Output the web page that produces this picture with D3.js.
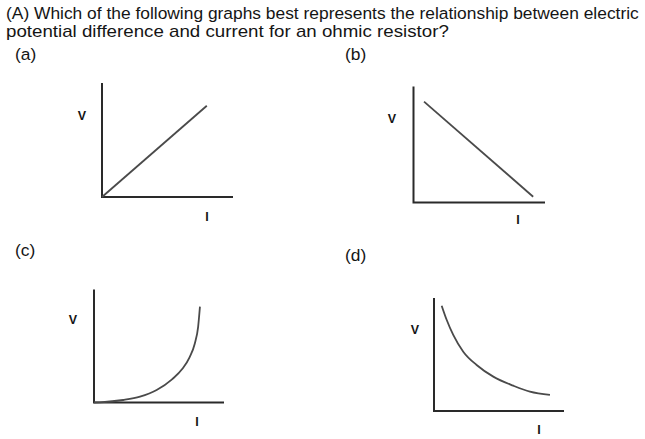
<!DOCTYPE html>
<html>
<head>
<meta charset="utf-8">
<script src="https://cdn.jsdelivr.net/npm/d3@7"></script>
<style>
  body { margin: 0; background: #fff; }
  text { font-family: "Liberation Sans", Arial, sans-serif; fill: #151515; }
</style>
</head>
<body>
<svg id="chart" width="645" height="439"></svg>
<script>
// question text
var titleLines = [
  "(A) Which of the following graphs best represents the relationship between electric",
  "potential difference and current for an ohmic resistor?"
];
var panelNames = ["(a)", "(b)", "(c)", "(d)"];
var yLabel = "V";
var xLabel = "I";

// curves, x = current, y = voltage (both 0..1 of the axis length)
var curveA = [[0, 0], [0.80, 0.80]];
var curveB = [[0.08, 0.87], [0.91, 0.05]];
var curveC = [[0, 0], [0.046, 0.002], [0.225, 0.022], [0.354, 0.051], [0.482, 0.11],
              [0.60, 0.205], [0.68, 0.298], [0.735, 0.40], [0.775, 0.52],
              [0.801, 0.67], [0.815, 0.848]];
var curveD = [[0.059, 0.932], [0.098, 0.805], [0.148, 0.673], [0.225, 0.525],
              [0.328, 0.407], [0.456, 0.304], [0.61, 0.224], [0.738, 0.171], [0.892, 0.142]];
var curves = [curveA, curveB, curveC, curveD];

// where each small graph sits on the page
var panels = [
  {ox: 102, oy: 197, xEnd: 233, top: 83, label: [15, 60], v: [82, 116], i: [207, 217], smooth: false},
  {ox: 413.5, oy: 202.5, xEnd: 545, top: 86.5, label: [345, 60], v: [392, 119], i: [518, 220], smooth: false},
  {ox: 94, oy: 402.5, xEnd: 224, top: 289.5, label: [15, 256], v: [73, 320], i: [197, 422], smooth: true},
  {ox: 434, oy: 411, xEnd: 564, top: 298, label: [345, 261], v: [415, 330], i: [539, 430], smooth: true}
];
// right end of each question line in the original
var titleEnds = [639, 449];

var svg = d3.select("#chart");

// the original font is a little narrower, so each line is squeezed to its width
var squeeze = 1;
titleLines.forEach(function(t, i) {
  var txt = svg.append("text")
    .attr("x", 0)
    .attr("y", 19.5 + i * 18)
    .style("font-size", "17px")
    .text(t);
  var s = (titleEnds[i] - 6) / txt.node().getComputedTextLength();
  if (i == 0) squeeze = s;
  txt.attr("transform", "translate(6,0) scale(" + s + ",1)");
});

panels.forEach(function(p, k) {
  var x = d3.scaleLinear().domain([0, 1]).range([p.ox, p.xEnd]);
  var y = d3.scaleLinear().domain([0, 1]).range([p.oy, p.top]);
  var g = svg.append("g");

  g.append("text")
    .attr("x", 0).attr("y", p.label[1])
    .attr("transform", "translate(" + p.label[0] + ",0) scale(" + squeeze + ",1)")
    .style("font-size", "17px")
    .text(panelNames[k]);

  // axes
  g.append("path")
    .attr("d", d3.line()([[x(0), y(1)], [x(0), y(0)], [x(1), y(0)]]))
    .attr("fill", "none")
    .attr("stroke", "#2a2a2a")
    .attr("stroke-width", 2);

  var line = d3.line()
    .x(function(d) { return x(d[0]); })
    .y(function(d) { return y(d[1]); })
    .curve(p.smooth ? d3.curveMonotoneX : d3.curveLinear);

  g.append("path")
    .datum(curves[k])
    .attr("d", line)
    .attr("fill", "none")
    .attr("stroke", "#4a4a4a")
    .attr("stroke-width", 1.8);

  g.append("text")
    .attr("x", p.v[0]).attr("y", p.v[1])
    .attr("text-anchor", "middle").attr("dominant-baseline", "central")
    .style("font-size", "12.5px").style("font-weight", "bold")
    .text(yLabel);

  g.append("text")
    .attr("x", p.i[0]).attr("y", p.i[1])
    .attr("text-anchor", "middle").attr("dominant-baseline", "central")
    .style("font-size", "12.5px").style("font-weight", "bold")
    .text(xLabel);
});
</script>
</body>
</html>
